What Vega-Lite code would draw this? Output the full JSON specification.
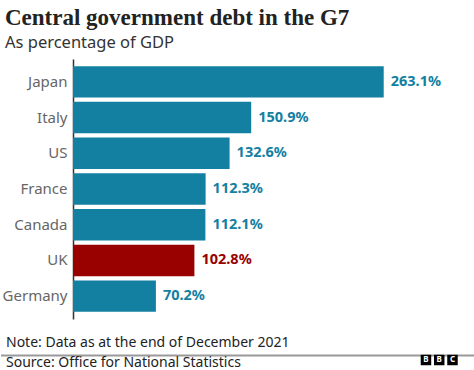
{
  "$schema": "https://vega.github.io/schema/vega-lite/v6.json",
  "background": "white",
  "padding": {"left": 0, "right": 0, "top": 6, "bottom": 0},
  "config": {"view": {"stroke": null}},
  "title": {
    "text": "Central government debt in the G7",
    "subtitle": "As percentage of GDP",
    "anchor": "start",
    "frame": "bounds",
    "font": "Liberation Serif",
    "fontSize": 23,
    "fontWeight": "bold",
    "color": "#222222",
    "subtitleFont": "Noto Sans",
    "subtitleFontSize": 16.5,
    "subtitleColor": "#333333",
    "subtitlePadding": 5,
    "offset": 8,
    "dx": 5
  },
  "spacing": 0,
  "vconcat": [
    {
      "width": 372,
      "height": 260,
      "data": {
        "values": [
          {"country": "Japan", "debt": 263.1},
          {"country": "Italy", "debt": 150.9},
          {"country": "US", "debt": 132.6},
          {"country": "France", "debt": 112.3},
          {"country": "Canada", "debt": 112.1},
          {"country": "UK", "debt": 102.8},
          {"country": "Germany", "debt": 70.2}
        ]
      },
      "transform": [{"calculate": "format(datum.debt, '.1f') + '%'", "as": "label"}],
      "encoding": {
        "y": {
          "field": "country",
          "type": "nominal",
          "sort": null,
          "scale": {"paddingInner": 0.12, "paddingOuter": 0.2},
          "axis": {
            "title": null,
            "ticks": false,
            "domain": true,
            "domainColor": "#333333",
            "domainWidth": 1.5,
            "labelFont": "Noto Sans",
            "labelFontSize": 15,
            "labelColor": "#666666",
            "labelPadding": 6,
            "grid": false
          }
        },
        "x": {
          "field": "debt",
          "type": "quantitative",
          "scale": {"domain": [0, 315]},
          "axis": null
        },
        "color": {
          "condition": {"test": "datum.country === 'UK'", "value": "#990000"},
          "value": "#1380A1"
        }
      },
      "layer": [
        {"mark": {"type": "bar"}},
        {
          "mark": {"type": "text", "align": "left", "baseline": "middle", "dx": 7, "font": "Noto Sans", "fontWeight": "bold", "fontSize": 14.5},
          "encoding": {"text": {"field": "label"}}
        }
      ]
    },
    {
      "width": 402,
      "height": 50,
      "data": {"values": [{"note": "Note: Data as at the end of December 2021", "source": "Source: Office for National Statistics"}]},
      "encoding": {
        "x": {"datum": -0.1667, "type": "quantitative", "scale": {"domain": [0, 1]}, "axis": null}
      },
      "layer": [
        {
          "mark": {"type": "text", "align": "left", "baseline": "middle", "font": "Noto Sans", "fontSize": 14, "color": "#222222"},
          "encoding": {
            "y": {"datum": 0.47, "type": "quantitative", "scale": {"domain": [0, 1], "reverse": true}, "axis": null},
            "text": {"field": "note"}
          }
        },
        {
          "mark": {"type": "rule", "color": "#999999", "strokeWidth": 2},
          "encoding": {
            "x": {"datum": -0.1791, "type": "quantitative"},
            "x2": {"datum": 1},
            "y": {"datum": 0.73, "type": "quantitative"}
          }
        },
        {
          "mark": {"type": "text", "align": "left", "baseline": "middle", "font": "Noto Sans", "fontSize": 14, "color": "#222222"},
          "encoding": {
            "y": {"datum": 0.87, "type": "quantitative"},
            "text": {"field": "source"}
          }
        },
        {
          "mark": {"type": "point", "shape": "square", "filled": true, "opacity": 1, "color": "#000000", "size": 110},
          "encoding": {"x": {"datum": 0.878, "type": "quantitative"}, "y": {"datum": 0.82, "type": "quantitative"}}
        },
        {
          "mark": {"type": "point", "shape": "square", "filled": true, "opacity": 1, "color": "#000000", "size": 110},
          "encoding": {"x": {"datum": 0.911, "type": "quantitative"}, "y": {"datum": 0.82, "type": "quantitative"}}
        },
        {
          "mark": {"type": "point", "shape": "square", "filled": true, "opacity": 1, "color": "#000000", "size": 110},
          "encoding": {"x": {"datum": 0.944, "type": "quantitative"}, "y": {"datum": 0.82, "type": "quantitative"}}
        },
        {
          "mark": {"type": "text", "align": "center", "baseline": "middle", "font": "Noto Sans", "fontWeight": "bold", "fontSize": 8, "color": "#ffffff", "text": "B"},
          "encoding": {"x": {"datum": 0.878, "type": "quantitative"}, "y": {"datum": 0.82, "type": "quantitative"}}
        },
        {
          "mark": {"type": "text", "align": "center", "baseline": "middle", "font": "Noto Sans", "fontWeight": "bold", "fontSize": 8, "color": "#ffffff", "text": "B"},
          "encoding": {"x": {"datum": 0.911, "type": "quantitative"}, "y": {"datum": 0.82, "type": "quantitative"}}
        },
        {
          "mark": {"type": "text", "align": "center", "baseline": "middle", "font": "Noto Sans", "fontWeight": "bold", "fontSize": 8, "color": "#ffffff", "text": "C"},
          "encoding": {"x": {"datum": 0.944, "type": "quantitative"}, "y": {"datum": 0.82, "type": "quantitative"}}
        }
      ]
    }
  ]
}
